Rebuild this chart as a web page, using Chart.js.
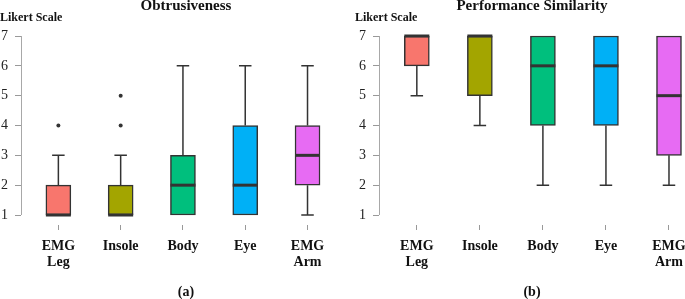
<!DOCTYPE html>
<html>
<head>
<meta charset="utf-8">
<script src="https://cdn.jsdelivr.net/npm/chart.js@4.4.0/dist/chart.umd.min.js"></script>
<style>
  body { margin: 0; background: #fff; }
  #wrap { position: relative; width: 685px; height: 299px; overflow: hidden; }
  canvas { position: absolute; top: 0; }
</style>
</head>
<body>
<div id="wrap">
  <canvas id="obtrusiveness" width="355" height="299" style="left:0px"></canvas>
  <canvas id="performance" width="330" height="299" style="left:355px"></canvas>
</div>
<script>
// categories and tick labels
const categories = [["EMG", "Leg"], "Insole", "Body", "Eye", ["EMG", "Arm"]];
const catPositions = [1, 2, 3, 4, 5];
const likertTicks = [1, 2, 3, 4, 5, 6, 7];
const boxColors = ["#F8766D", "#A3A500", "#00BF7D", "#00B0F6", "#E76BF3"];

// (a) Obtrusiveness
const obtMin = [1, 1, 1, 1, 1];
const obtQ1 = [1, 1, 1, 1, 2];
const obtMedian = [1, 1, 2, 2, 3];
const obtQ3 = [2, 2, 3, 4, 4];
const obtMax = [3, 3, 6, 6, 6];
const obtOutliers = [[4], [4, 5], [], [], []];

// (b) Performance Similarity
const perfMin = [5, 4, 2, 2, 2];
const perfQ1 = [6, 5, 4, 4, 3];
const perfMedian = [7, 7, 6, 6, 5];
const perfQ3 = [7, 7, 7, 7, 7];
const perfMax = [7, 7, 7, 7, 7];
const perfOutliers = [[], [], [], [], []];

const serif = "'Liberation Serif', 'Times New Roman', serif";

// whiskers, medians and the y axis line
function boxExtras(mins, medians, maxs) {
  return {
    id: "boxExtras",
    afterDatasetsDraw(chart) {
      const ctx = chart.ctx;
      const x = chart.scales.x;
      const y = chart.scales.y;
      const left = chart.chartArea.left;
      ctx.save();
      ctx.strokeStyle = "#a8a8a8";
      ctx.lineWidth = 1;
      ctx.beginPath();
      ctx.moveTo(left + 0.5, y.getPixelForValue(likertTicks[0]));
      ctx.lineTo(left + 0.5, y.getPixelForValue(likertTicks[likertTicks.length - 1]));
      ctx.stroke();

      let bars = chart.getDatasetMeta(0).data;
      ctx.strokeStyle = "#333";
      catPositions.forEach(function (pos, i) {
        let cx = x.getPixelForValue(pos);
        let half = bars[i].width / 2;
        let cap = half / 2;
        let q1 = chart.data.datasets[0].data[i].y[0];
        let q3 = chart.data.datasets[0].data[i].y[1];
        ctx.lineWidth = 1.5;
        ctx.beginPath();
        if (maxs[i] > q3) {
          ctx.moveTo(cx, y.getPixelForValue(q3));
          ctx.lineTo(cx, y.getPixelForValue(maxs[i]));
          ctx.moveTo(cx - cap, y.getPixelForValue(maxs[i]));
          ctx.lineTo(cx + cap, y.getPixelForValue(maxs[i]));
        }
        if (mins[i] < q1) {
          ctx.moveTo(cx, y.getPixelForValue(q1));
          ctx.lineTo(cx, y.getPixelForValue(mins[i]));
          ctx.moveTo(cx - cap, y.getPixelForValue(mins[i]));
          ctx.lineTo(cx + cap, y.getPixelForValue(mins[i]));
        }
        ctx.stroke();
        ctx.lineWidth = 3;
        ctx.beginPath();
        ctx.moveTo(cx - half, y.getPixelForValue(medians[i]));
        ctx.lineTo(cx + half, y.getPixelForValue(medians[i]));
        ctx.stroke();
      });
      ctx.restore();
    },
  };
}

function makeBoxChart(canvasId, title, label, q1, q3, mins, medians, maxs, outliers, axisWidth, xMax) {
  let boxData = catPositions.map(function (pos, i) {
    return { x: pos, y: [q1[i], q3[i]] };
  });
  let outlierData = [];
  outliers.forEach(function (list, i) {
    list.forEach(function (v) {
      outlierData.push({ x: catPositions[i], y: v });
    });
  });

  let ctx = document.getElementById(canvasId).getContext("2d");
  return new Chart(ctx, {
    type: "bar",
    data: {
      datasets: [
        {
          data: boxData,
          backgroundColor: boxColors,
          borderColor: "#333",
          borderWidth: 1.5,
          borderSkipped: false,
          barThickness: 25,
          clip: false,
        },
        {
          type: "scatter",
          data: outlierData,
          pointRadius: 2,
          backgroundColor: "#333",
          borderWidth: 0,
          clip: false,
        },
      ],
    },
    options: {
      responsive: false,
      animation: false,
      layout: { padding: 0 },
      plugins: {
        legend: { display: false },
        tooltip: { enabled: false },
        title: {
          display: true,
          text: title,
          fullSize: false,
          color: "#111",
          font: { family: serif, size: 15, weight: "bold", lineHeight: 0.8 },
          padding: { top: 0, bottom: 0 },
        },
        subtitle: {
          display: true,
          text: "Likert Scale",
          align: "start",
          color: "#111",
          font: { family: serif, size: 12, weight: "bold", lineHeight: 1 },
          padding: { top: 0, bottom: 12 },
        },
      },
      scales: {
        x: {
          type: "linear",
          min: 0.4,
          max: xMax,
          offset: false,
          border: { display: false },
          grid: { drawOnChartArea: false, offset: false, tickLength: 5, color: "#999" },
          afterBuildTicks: function (scale) {
            scale.ticks = catPositions.map(function (v) { return { value: v }; });
          },
          afterFit: function (scale) {
            scale.height = 74;
            scale.paddingLeft = 0;
            scale.paddingRight = 0;
          },
          ticks: {
            padding: 8,
            color: "#111",
            maxRotation: 0,
            font: { family: serif, size: 14, weight: "bold", lineHeight: 1.15 },
            callback: function (value) {
              return categories[catPositions.indexOf(value)];
            },
          },
          title: {
            display: true,
            text: label,
            color: "#111",
            font: { family: serif, size: 14, weight: "bold", lineHeight: 1 },
            padding: { top: 0, bottom: 0 },
          },
        },
        y: {
          min: 0.665,
          max: 7,
          border: { display: false },
          grid: { drawOnChartArea: false, tickLength: 6, color: "#999" },
          afterBuildTicks: function (scale) {
            scale.ticks = likertTicks.map(function (v) { return { value: v }; });
          },
          afterFit: function (scale) {
            scale.width = axisWidth;
            scale.paddingTop = 0;
            scale.paddingBottom = 0;
          },
          ticks: {
            padding: 7,
            color: "#222",
            font: { family: serif, size: 14 },
          },
        },
      },
    },
    plugins: [boxExtras(mins, medians, maxs)],
  });
}

var obtChart = makeBoxChart("obtrusiveness", "Obtrusiveness", "(a)",
  obtQ1, obtQ3, obtMin, obtMedian, obtMax, obtOutliers, 21, 5.698);
var perfChart = makeBoxChart("performance", "Performance Similarity", "(b)",
  perfQ1, perfQ3, perfMin, perfMedian, perfMax, perfOutliers, 24, 5.254);
</script>
</body>
</html>
